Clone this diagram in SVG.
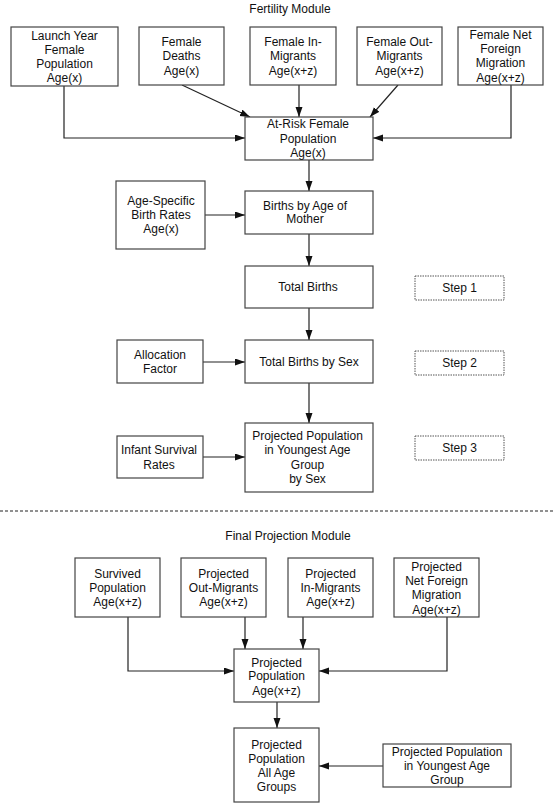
<svg xmlns="http://www.w3.org/2000/svg" width="555" height="803" viewBox="0 0 555 803">
<style>
text{font-family:"Liberation Sans",Arial,sans-serif;font-size:12px;fill:#111;text-anchor:middle}
.box{fill:#fff;stroke:#444;stroke-width:1.2}
.step{fill:#fff;stroke:#555;stroke-width:1;stroke-dasharray:1.5,1}
.ln{fill:none;stroke:#222;stroke-width:1.2;marker-end:url(#ah)}
.sep{stroke:#222;stroke-width:1.2;stroke-dasharray:3,2}
</style>
<defs>
<marker id="ah" markerUnits="userSpaceOnUse" markerWidth="11" markerHeight="8" refX="10" refY="3.5" orient="auto">
<path d="M0,0 L10,3.5 L0,7 z" fill="#111"/>
</marker>
</defs>
<rect width="555" height="803" fill="#fff"/>
<text x="290" y="13">Fertility Module</text>
<text x="288" y="540">Final Projection Module</text>
<line class="sep" x1="0" y1="511" x2="555" y2="511"/>

<g id="connectors">
<polyline class="ln" points="64,86 64,138 245,138"/>
<line class="ln" x1="182" y1="85" x2="250" y2="117"/>
<line class="ln" x1="299" y1="85" x2="299" y2="117"/>
<line class="ln" x1="398" y1="85" x2="370" y2="117"/>
<polyline class="ln" points="511,85 511,138 373,138"/>
<line class="ln" x1="309" y1="160" x2="309" y2="191"/>
<line class="ln" x1="205" y1="215" x2="245" y2="215"/>
<line class="ln" x1="309" y1="234" x2="309" y2="266"/>
<line class="ln" x1="309" y1="308" x2="309" y2="340"/>
<line class="ln" x1="203" y1="362" x2="245" y2="362"/>
<line class="ln" x1="309" y1="383" x2="309" y2="423"/>
<line class="ln" x1="203" y1="457" x2="245" y2="457"/>
<polyline class="ln" points="128,617 128,671 234,671"/>
<line class="ln" x1="245" y1="617" x2="245" y2="649"/>
<line class="ln" x1="303" y1="617" x2="303" y2="649"/>
<polyline class="ln" points="447,617 447,671 319,671"/>
<line class="ln" x1="277" y1="702" x2="277" y2="728"/>
<line class="ln" x1="383" y1="766" x2="319" y2="766"/>
</g>

<g id="launch-year"><rect class="box" x="11" y="27" width="107" height="59"/>
<text x="64.5" y="39.5">Launch Year</text><text x="64.5" y="53.7">Female</text><text x="64.5" y="67.9">Population</text><text x="64.5" y="82.1">Age(x)</text></g>
<g id="female-deaths"><rect class="box" x="139" y="27" width="85" height="58"/>
<text x="181.5" y="46">Female</text><text x="181.5" y="60.3">Deaths</text><text x="181.5" y="74.6">Age(x)</text></g>
<g id="female-in"><rect class="box" x="250" y="27" width="86" height="58"/>
<text x="293" y="46">Female In-</text><text x="293" y="60.3">Migrants</text><text x="293" y="74.6">Age(x+z)</text></g>
<g id="female-out"><rect class="box" x="357" y="27" width="85" height="58"/>
<text x="399.5" y="46">Female Out-</text><text x="399.5" y="60.3">Migrants</text><text x="399.5" y="74.6">Age(x+z)</text></g>
<g id="female-net"><rect class="box" x="458" y="27" width="85" height="58"/>
<text x="500.5" y="38.6">Female Net</text><text x="500.5" y="53">Foreign</text><text x="500.5" y="67.3">Migration</text><text x="500.5" y="81.6">Age(x+z)</text></g>
<g id="at-risk"><rect class="box" x="245" y="117" width="128" height="43"/>
<text x="308" y="128.3">At-Risk Female</text><text x="308" y="142.6">Population</text><text x="308" y="157">Age(x)</text></g>
<g id="age-specific"><rect class="box" x="116" y="181" width="89" height="68"/>
<text x="161" y="205">Age-Specific</text><text x="161" y="219.3">Birth Rates</text><text x="161" y="233.3">Age(x)</text></g>
<g id="births-age"><rect class="box" x="245" y="191" width="128" height="43"/>
<text x="305" y="210">Births by Age of</text><text x="305" y="223.3">Mother</text></g>
<g id="total-births"><rect class="box" x="245" y="266" width="128" height="42"/>
<text x="308" y="291">Total Births</text></g>
<g id="step1"><rect class="step" x="415" y="276" width="89" height="24"/><text x="459.5" y="292">Step 1</text></g>
<g id="allocation"><rect class="box" x="117" y="340" width="86" height="43"/>
<text x="160" y="358.6">Allocation</text><text x="160" y="372.6">Factor</text></g>
<g id="births-sex"><rect class="box" x="245" y="340" width="128" height="43"/>
<text x="309" y="366">Total Births by Sex</text></g>
<g id="step2"><rect class="step" x="415" y="351" width="89" height="24"/><text x="459.5" y="367">Step 2</text></g>
<g id="infant"><rect class="box" x="117" y="436" width="86" height="42"/>
<text x="159" y="454.3">Infant Survival</text><text x="159" y="468.6">Rates</text></g>
<g id="proj-youngest-sex"><rect class="box" x="245" y="423" width="128" height="69"/>
<text x="307.5" y="440.3">Projected Population</text><text x="307.5" y="454.3">in Youngest Age</text><text x="307.5" y="468.6">Group</text><text x="307.5" y="482.6">by Sex</text></g>
<g id="step3"><rect class="step" x="415" y="436" width="89" height="24"/><text x="459.5" y="452">Step 3</text></g>

<g id="survived"><rect class="box" x="75" y="558" width="85" height="59"/>
<text x="117.5" y="577.6">Survived</text><text x="117.5" y="592">Population</text><text x="117.5" y="606">Age(x+z)</text></g>
<g id="proj-out"><rect class="box" x="181" y="558" width="85" height="59"/>
<text x="223.5" y="577.6">Projected</text><text x="223.5" y="592">Out-Migrants</text><text x="223.5" y="606">Age(x+z)</text></g>
<g id="proj-in"><rect class="box" x="288" y="558" width="85" height="59"/>
<text x="330.5" y="577.6">Projected</text><text x="330.5" y="592">In-Migrants</text><text x="330.5" y="606">Age(x+z)</text></g>
<g id="proj-net"><rect class="box" x="394" y="558" width="85" height="59"/>
<text x="436.5" y="571">Projected</text><text x="436.5" y="585.3">Net Foreign</text><text x="436.5" y="599.3">Migration</text><text x="436.5" y="613.6">Age(x+z)</text></g>
<g id="proj-pop"><rect class="box" x="234" y="649" width="85" height="53"/>
<text x="276.5" y="666.6">Projected</text><text x="276.5" y="680.3">Population</text><text x="276.5" y="695">Age(x+z)</text></g>
<g id="proj-all"><rect class="box" x="234" y="728" width="85" height="74"/>
<text x="276.5" y="748.6">Projected</text><text x="276.5" y="762.6">Population</text><text x="276.5" y="777">All Age</text><text x="276.5" y="791">Groups</text></g>
<g id="proj-youngest"><rect class="box" x="383" y="744" width="128" height="43"/>
<text x="447" y="756">Projected Population</text><text x="447" y="770.3">in Youngest Age</text><text x="447" y="784.3">Group</text></g>
</svg>
